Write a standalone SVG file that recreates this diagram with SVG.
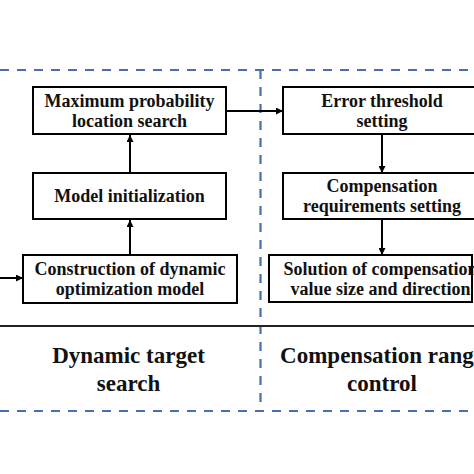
<svg xmlns="http://www.w3.org/2000/svg" width="474" height="474" viewBox="0 0 474 474">
<defs>
<marker id="ah" viewBox="0 0 10 10" refX="10" refY="5" markerWidth="7" markerHeight="7" markerUnits="userSpaceOnUse" orient="auto">
<path d="M0,0 L10,5 L0,10 z" fill="#000"/>
</marker>
<style>
.box{fill:#fff;stroke:#000;stroke-width:2}
.t{font-family:"Liberation Serif","Times New Roman",serif;font-weight:bold;font-size:18px;text-anchor:middle;fill:#111}
.lab{font-family:"Liberation Serif","Times New Roman",serif;font-weight:bold;font-size:23px;text-anchor:middle;fill:#111}
.dash{fill:none;stroke:#4a6cb3;stroke-width:2.2;stroke-dasharray:9 8}
.con{fill:none;stroke:#000;stroke-width:2;marker-end:url(#ah)}
</style>
</defs>
<rect width="474" height="474" fill="#fff"/>
<g id="frame">
<line class="dash" x1="0" y1="70" x2="474" y2="70"/>
<line class="dash" x1="0" y1="411" x2="474" y2="411"/>
<line class="dash" x1="260.5" y1="70" x2="260.5" y2="411"/>
<line x1="0" y1="326" x2="474" y2="326" stroke="#222" stroke-width="2"/>
</g>
<g id="connectors">
<line class="con" x1="226" y1="111" x2="283" y2="111"/>
<line class="con" x1="130" y1="173" x2="130" y2="135"/>
<line class="con" x1="130" y1="255" x2="130" y2="220"/>
<line class="con" x1="0" y1="278" x2="23" y2="278"/>
<line class="con" x1="382" y1="134" x2="382" y2="173"/>
<line class="con" x1="382" y1="219" x2="382" y2="255"/>
</g>
<g id="n1">
<rect class="box" x="33" y="87" width="193" height="47"/>
<text class="t" x="129.5" y="107">Maximum probability</text>
<text class="t" x="129.5" y="127">location search</text>
</g>
<g id="n2">
<rect class="box" x="33" y="173" width="193" height="46"/>
<text class="t" x="129.5" y="202">Model initialization</text>
</g>
<g id="n3">
<rect class="box" x="23" y="255" width="214" height="48"/>
<text class="t" x="130" y="275">Construction of dynamic</text>
<text class="t" x="130" y="295">optimization model</text>
</g>
<g id="n4">
<rect class="box" x="283" y="87" width="200" height="47"/>
<text class="t" x="382" y="107">Error threshold</text>
<text class="t" x="382" y="127">setting</text>
</g>
<g id="n5">
<rect class="box" x="283" y="173" width="200" height="46"/>
<text class="t" x="382" y="192">Compensation</text>
<text class="t" x="382" y="212">requirements setting</text>
</g>
<g id="n6">
<rect class="box" x="269" y="255" width="203" height="47"/>
<text class="t" x="380.5" y="275">Solution of compensation</text>
<text class="t" x="380.5" y="295">value size and direction</text>
</g>
<g id="labels">
<text class="lab" x="128.5" y="363">Dynamic target</text>
<text class="lab" x="128.5" y="391">search</text>
<text class="lab" x="382" y="363">Compensation range</text>
<text class="lab" x="382" y="391">control</text>
</g>
</svg>
